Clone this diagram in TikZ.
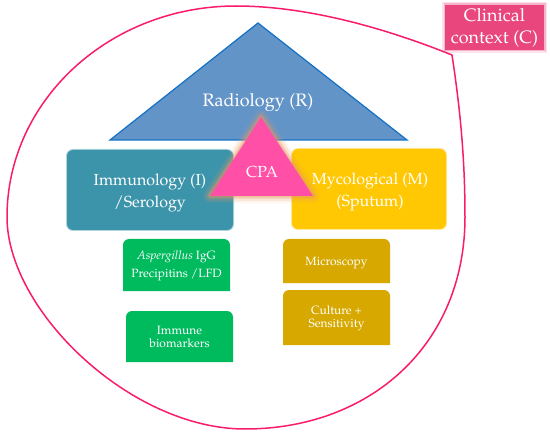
\documentclass[tikz,border=0pt]{standalone}
\usepackage[T1]{fontenc}
\usepackage{mathpazo}
\definecolor{radfill}{HTML}{6394C8}
\definecolor{raddraw}{HTML}{1270C6}
\definecolor{immfill}{HTML}{3C94AB}
\definecolor{mycfill}{HTML}{FFC803}
\definecolor{cpafill}{HTML}{FF4FA7}
\definecolor{cpaglow}{HTML}{E89A60}
\definecolor{grnfill}{HTML}{00BA5E}
\definecolor{goldfill}{HTML}{D6A800}
\definecolor{clinfill}{HTML}{E8467C}
\definecolor{outlinec}{HTML}{FA1C6C}
\newcommand\toprbox[5]{% color, x1, y1, x2, y2
  \fill[#1] (#2,#5) -- (#2,#3+6) arc[start angle=180,end angle=270,radius=6] -- (#4-6,#3) arc[start angle=270,end angle=360,radius=6] -- (#4,#5) -- cycle;}
\tikzset{
  lbl/.style={text=white, align=center, inner sep=0pt},
  big/.style={lbl, font=\fontsize{18}{22}\selectfont},
  mid/.style={lbl, font=\fontsize{16}{22.5}\selectfont},
  small/.style={lbl, font=\fontsize{12}{13}\selectfont},
}
\begin{document}
\begin{tikzpicture}[x=1pt,y=-1pt]
\useasboundingbox (0,0) rectangle (550,436);
% outer outline
\draw[outlinec, line width=1.5pt, line join=round]
  (236,6) .. controls (310,6) and (390,30) .. (452,55)
  .. controls (462,120) and (465,170) .. (465,217)
  .. controls (465,345) and (370,429) .. (245,429)
  .. controls (130,429) and (7,310) .. (7,217)
  arc[start angle=180,end angle=270,x radius=229,y radius=211] -- cycle;
% clinical context
\foreach \w/\o in {6/0.15,3/0.3}
  \draw[clinfill, line width=\w pt, opacity=\o] (445,5) rectangle (544,50);
\fill[clinfill] (445,5) rectangle (544,50);
\node[big] (clin) at (494.5,28) {Clinical\\context (C)};
% radiology
\filldraw[fill=radfill, draw=raddraw, line width=1.2pt, line join=miter] (258,23) -- (407,140) -- (110,140) -- cycle;
\node[big] (rad) at (258,103) {Radiology (R)};
% immunology and mycological
\draw[immfill!40, line width=2pt, rounded corners=6pt] (67,150) rectangle (233,230);
\fill[immfill, rounded corners=6pt] (67,150) rectangle (233,230);
\node[mid] (imm) at (150,193) {Immunology (I)\\/Serology};
\draw[mycfill!40, line width=2pt, rounded corners=6pt] (292,149) rectangle (446,229);
\fill[mycfill, rounded corners=6pt] (292,149) rectangle (446,229);
\node[mid] (myc) at (370,192) {Mycological (M)\\(Sputum)};
% CPA
\foreach \w/\o in {14/0.10,10/0.15,6/0.25,3/0.35}
  \draw[cpaglow, line width=\w pt, line join=round, opacity=\o] (261,117) -- (313,196) -- (210,196) -- cycle;
\fill[cpafill] (261,117) -- (313,196) -- (210,196) -- cycle;
\node[lbl, font=\fontsize{16}{20}\selectfont] (cpa) at (262,172) {CPA};
% small boxes
\toprbox{grnfill}{123}{239}{230}{291}
\node[small, font=\fontsize{12}{18}\selectfont] (asp) at (176.5,266) {\textit{Aspergillus} IgG\\Precipitins /LFD};
\toprbox{grnfill}{126}{311}{233}{362}
\node[small] (bio) at (179.5,337) {Immune\\biomarkers};
\toprbox{goldfill}{283}{239}{390}{283}
\node[small] (mic) at (336.5,263) {Microscopy};
\toprbox{goldfill}{283}{290}{390}{345}
\node[small] (cul) at (336.5,318) {Culture +\\Sensitivity};
\end{tikzpicture}
\end{document}
